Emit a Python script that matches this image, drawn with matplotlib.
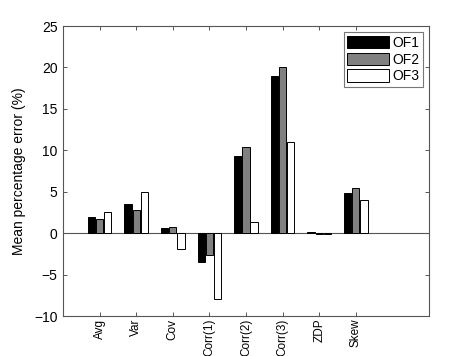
import numpy as np
import matplotlib
matplotlib.use("Agg")
import matplotlib.pyplot as plt

plt.rcParams["font.family"] = ["Liberation Sans", "DejaVu Sans"]

# data
categories = ["Avg", "Var", "Cov", "Corr(1)", "Corr(2)", "Corr(3)", "ZDP", "Skew"]
of1 = [1.93, 3.46, 0.64, -3.50, 9.26, 18.97, 0.15, 4.85]
of2 = [1.65, 2.74, 0.77, -2.62, 10.35, 20.10, -0.05, 5.48]
of3 = [2.54, 5.00, -1.97, -8.00, 1.33, 10.95, -0.10, 3.95]
series_names = ["OF1", "OF2", "OF3"]

fig = plt.figure(figsize=(4.74, 3.56), dpi=100)
ax = fig.add_axes([63 / 474, 1 - 316 / 356, (429 - 63) / 474, (316 - 26) / 356])

x = np.arange(1, len(categories) + 1)
w = 0.2
offs = [-0.222, 0.0, 0.222]
colors = ["black", "#808080", "white"]
for vals, off, c, name in zip([of1, of2, of3], offs, colors, series_names):
    ax.bar(x + off, vals, width=w, color=c, edgecolor="black", linewidth=0.7, label=name)

ax.axhline(0, color="#555555", linewidth=0.8, zorder=0)

ax.set_xlim(0, 10)
ax.set_ylim(-10, 25)
ax.set_yticks(np.arange(-10, 26, 5))
ax.set_yticklabels(["\u221210", "\u22125", "0", "5", "10", "15", "20", "25"])
ax.set_xticks(x)
ax.set_xticklabels(categories, rotation=90)
ax.tick_params(direction="in", top=True, right=True, length=3,
               color="#555555", width=0.7)
ax.tick_params(axis="y", labelsize=10, pad=4)
ax.tick_params(axis="x", labelsize=8.5, pad=2)
for s in ax.spines.values():
    s.set_color("#555555")
    s.set_linewidth(0.8)
ax.set_ylabel("Mean percentage error (%)", fontsize=10, labelpad=6)

leg = ax.legend(loc="upper right", fontsize=10, frameon=True, fancybox=False,
                handlelength=3.0, handleheight=1.0, borderaxespad=0.45,
                labelspacing=0.2, handletextpad=0.25, borderpad=0.25)
leg.get_frame().set_edgecolor("#555555")
leg.get_frame().set_linewidth(0.8)

fig.savefig("out.png", dpi=100)
